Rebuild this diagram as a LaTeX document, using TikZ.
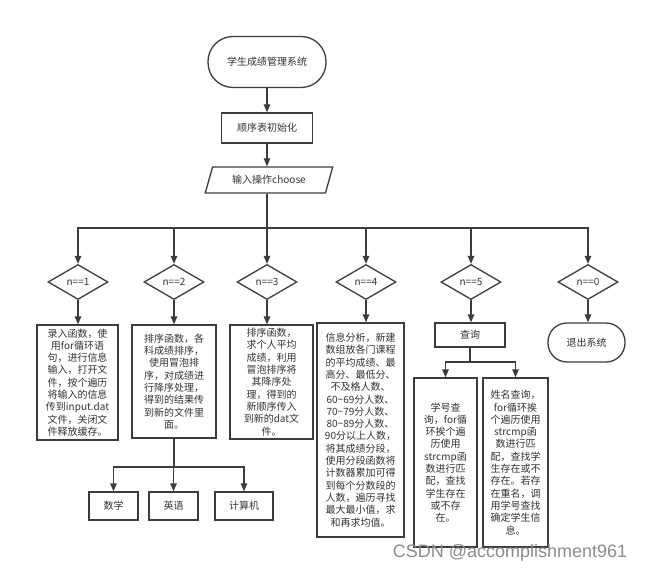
\documentclass[tikz,border=0pt]{standalone}
\usepackage{fontspec}
\usepackage{xcolor}
\usepackage{tikz}
\usetikzlibrary{arrows.meta,positioning,shapes.geometric}
\newfontfamily\cjkfont{Noto Sans CJK SC}
\newfontfamily\markfont{Liberation Sans}
\definecolor{LineGray}{HTML}{3C3C3C}
\definecolor{TextGray}{HTML}{333333}

\begin{document}
\begin{tikzpicture}[
  x=1pt, y=-1pt,
  every node/.style={font=\cjkfont\fontsize{10}{12.3}\selectfont, text=TextGray},
  box/.style={
    draw=LineGray, line width=1.3pt, fill=white,
    align=center, inner sep=2pt
  },
  terminal/.style={box, rounded corners=#1},
  decision/.style={
    diamond, draw=LineGray, line width=1.3pt, fill=white,
    minimum width=60pt, minimum height=35pt, inner sep=0pt, aspect=1.7
  },
  io/.style={
    trapezium, trapezium left angle=72, trapezium right angle=108,
    trapezium stretches=true, draw=LineGray, line width=1.3pt, fill=white,
    minimum width=128pt, minimum height=26pt
  },
  arrow/.style={-{Triangle[length=8pt,width=6.5pt]}, line width=1.3pt, draw=LineGray}
]
\fill[white] (0,0) rectangle (651,572);
\useasboundingbox (0,0) rectangle (651,572);

\node[terminal=25pt, minimum width=118pt, minimum height=51pt] (sys) at (267,62) {学生成绩管理系统};
\node[box, minimum width=91pt, minimum height=30pt] (init) at (267,128) {顺序表初始化};
\node[io] (choose) at (269,180) {输入操作choose};
\coordinate (bus) at (267,228);

\node[decision] (d1) at (78,282) {n==1};
\node[decision] (d2) at (174,282) {n==2};
\node[decision] (d3) at (267,282) {n==3};
\node[decision] (d4) at (366,282) {n==4};
\node[decision] (d5) at (471,282) {n==5};
\node[decision] (d0) at (588,282) {n==0};

\node[box, minimum width=81pt, minimum height=115pt] (b1) at (77.5,382.5)
{录入函数，使\\用for循环语\\句，进行信息\\输入，打开文\\件，按个遍历\\将输入的信息\\传到input.dat\\文件，关闭文\\件释放缓存。};
\node[box, minimum width=84pt, minimum height=113pt] (b2) at (174,381.5)
{排序函数，各\\科成绩排序，\\使用冒泡排\\序，对成绩进\\行降序处理，\\得到的结果传\\到新的文件里\\面。};
\node[box, minimum width=83pt, minimum height=114pt] (b3) at (271.5,382)
{排序函数，\\求个人平均\\成绩，利用\\冒泡排序将\\其降序处\\理，得到的\\新顺序传入\\到新的dat文\\件。};
\node[box, minimum width=87pt, minimum height=214pt] (b4) at (360.5,430)
{信息分析，新建\\数组放各门课程\\的平均成绩、最\\高分、最低分、\\不及格人数、\\60\textasciitilde69分人数、\\70\textasciitilde79分人数、\\80\textasciitilde89分人数、\\90分以上人数，\\将其成绩分段，\\使用分段函数将\\计数器累加可得\\到每个分数段的\\人数，遍历寻找\\最大最小值，求\\和再求均值。};
\node[box, minimum width=70pt, minimum height=24pt] (query) at (470,335) {查询};
\node[terminal=19pt, minimum width=77pt, minimum height=39pt] (exit) at (586.5,342.5) {退出系统};

\coordinate (qbus) at (470,362);
\node[box, minimum width=63pt, minimum height=169pt] (q1) at (445.5,462.5)
{学号查\\询，for循\\环挨个遍\\历使用\\strcmp函\\数进行匹\\配，查找\\学生存在\\或不存\\在。};
\node[box, minimum width=65pt, minimum height=169pt] (q2) at (515.5,462.5)
{姓名查询，\\for循环挨\\个遍历使用\\strcmp函\\数进行匹\\配，查找学\\生存在或不\\存在。若存\\在重名，调\\用学号查找\\确定学生信\\息。};

\coordinate (sbus) at (174,467);
\node[box, minimum width=49pt, minimum height=28pt] (math) at (113.5,506) {数学};
\node[box, minimum width=49pt, minimum height=28pt] (eng) at (173.5,506) {英语};
\node[box, minimum width=58pt, minimum height=28pt] (cs) at (244,506) {计算机};

\node[font=\markfont\fontsize{18}{18}\selectfont, text=black!45] (mark) at (510,553) {CSDN @accomplishment961};

\draw[arrow] (sys) -- (init);
\draw[arrow] (init.south) -- (init.south |- choose.north);
\foreach \d in {d1,d2,d3,d4,d5,d0}
  \draw[arrow] (choose.south -| bus) -- (bus) -| (\d.north);
\foreach \d/\b in {d1/b1,d2/b2,d3/b3,d4/b4,d5/query,d0/exit}
  \draw[arrow] (\d.south) -- (\d.south |- \b.north);
\foreach \q in {q1,q2}
  \draw[arrow] (query.south) -- (qbus) -| (\q.north);
\foreach \s in {math,eng,cs}
  \draw[arrow] (b2.south) -- (sbus) -| (\s.north);
\end{tikzpicture}
\end{document}
